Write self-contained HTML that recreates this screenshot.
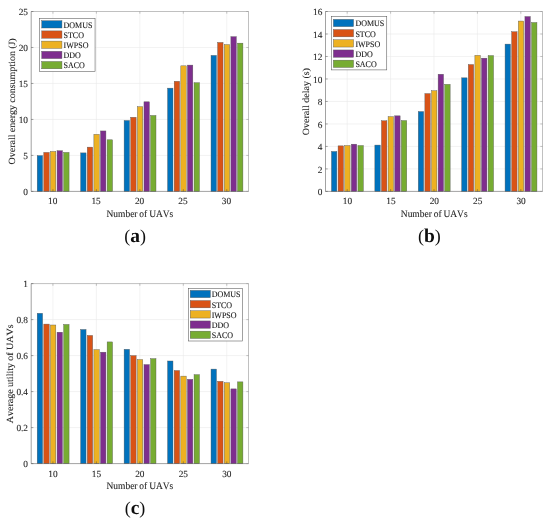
<!DOCTYPE html>
<html><head><meta charset="utf-8"><title>Figure</title>
<style>
html,body{margin:0;padding:0;background:#fff;}
svg{display:block;font-family:"Liberation Serif", serif;}
text{font-kerning:none;text-rendering:geometricPrecision;stroke:#262626;stroke-width:0.1px;}
.cap,.cap tspan{stroke:none;}
.lab{word-spacing:-0.5px;}
</style></head><body>
<svg width="550" height="524" viewBox="0 0 550 524">
<defs><filter id="soft" x="0" y="0" width="550" height="524" filterUnits="userSpaceOnUse"><feGaussianBlur stdDeviation="0.32"/></filter></defs>
<rect width="550" height="524" fill="#fff"/>
<g filter="url(#soft)">
<rect width="550" height="524" fill="#fff"/>
<line x1="52.93" y1="11.5" x2="52.93" y2="191.4" stroke="#e9e9e9" stroke-width="0.6"/>
<line x1="96.39" y1="11.5" x2="96.39" y2="191.4" stroke="#e9e9e9" stroke-width="0.6"/>
<line x1="139.85" y1="11.5" x2="139.85" y2="191.4" stroke="#e9e9e9" stroke-width="0.6"/>
<line x1="183.31" y1="11.5" x2="183.31" y2="191.4" stroke="#e9e9e9" stroke-width="0.6"/>
<line x1="226.77" y1="11.5" x2="226.77" y2="191.4" stroke="#e9e9e9" stroke-width="0.6"/>
<line x1="31.2" y1="155.42" x2="248.5" y2="155.42" stroke="#e9e9e9" stroke-width="0.6"/>
<line x1="31.2" y1="119.44" x2="248.5" y2="119.44" stroke="#e9e9e9" stroke-width="0.6"/>
<line x1="31.2" y1="83.46" x2="248.5" y2="83.46" stroke="#e9e9e9" stroke-width="0.6"/>
<line x1="31.2" y1="47.48" x2="248.5" y2="47.48" stroke="#e9e9e9" stroke-width="0.6"/>
<rect x="37.19" y="155.64" width="5.40" height="35.76" fill="#0072BD" stroke="#555" stroke-width="0.4"/>
<rect x="43.81" y="152.40" width="5.40" height="39.00" fill="#D95319" stroke="#555" stroke-width="0.4"/>
<rect x="50.43" y="151.46" width="5.40" height="39.94" fill="#EDB120" stroke="#555" stroke-width="0.4"/>
<rect x="57.05" y="150.74" width="5.40" height="40.66" fill="#7E2F8E" stroke="#555" stroke-width="0.4"/>
<rect x="63.67" y="152.40" width="5.40" height="39.00" fill="#77AC30" stroke="#555" stroke-width="0.4"/>
<rect x="80.65" y="152.90" width="5.40" height="38.50" fill="#0072BD" stroke="#555" stroke-width="0.4"/>
<rect x="87.27" y="147.14" width="5.40" height="44.26" fill="#D95319" stroke="#555" stroke-width="0.4"/>
<rect x="93.89" y="134.34" width="5.40" height="57.06" fill="#EDB120" stroke="#555" stroke-width="0.4"/>
<rect x="100.51" y="130.95" width="5.40" height="60.45" fill="#7E2F8E" stroke="#555" stroke-width="0.4"/>
<rect x="107.13" y="139.80" width="5.40" height="51.60" fill="#77AC30" stroke="#555" stroke-width="0.4"/>
<rect x="124.11" y="120.52" width="5.40" height="70.88" fill="#0072BD" stroke="#555" stroke-width="0.4"/>
<rect x="130.73" y="117.28" width="5.40" height="74.12" fill="#D95319" stroke="#555" stroke-width="0.4"/>
<rect x="137.35" y="106.70" width="5.40" height="84.70" fill="#EDB120" stroke="#555" stroke-width="0.4"/>
<rect x="143.97" y="101.81" width="5.40" height="89.59" fill="#7E2F8E" stroke="#555" stroke-width="0.4"/>
<rect x="150.59" y="115.48" width="5.40" height="75.92" fill="#77AC30" stroke="#555" stroke-width="0.4"/>
<rect x="167.57" y="88.14" width="5.40" height="103.26" fill="#0072BD" stroke="#555" stroke-width="0.4"/>
<rect x="174.19" y="81.30" width="5.40" height="110.10" fill="#D95319" stroke="#555" stroke-width="0.4"/>
<rect x="180.81" y="65.83" width="5.40" height="125.57" fill="#EDB120" stroke="#555" stroke-width="0.4"/>
<rect x="187.43" y="65.11" width="5.40" height="126.29" fill="#7E2F8E" stroke="#555" stroke-width="0.4"/>
<rect x="194.05" y="82.74" width="5.40" height="108.66" fill="#77AC30" stroke="#555" stroke-width="0.4"/>
<rect x="211.03" y="55.40" width="5.40" height="136.00" fill="#0072BD" stroke="#555" stroke-width="0.4"/>
<rect x="217.65" y="42.44" width="5.40" height="148.96" fill="#D95319" stroke="#555" stroke-width="0.4"/>
<rect x="224.27" y="44.60" width="5.40" height="146.80" fill="#EDB120" stroke="#555" stroke-width="0.4"/>
<rect x="230.89" y="36.69" width="5.40" height="154.71" fill="#7E2F8E" stroke="#555" stroke-width="0.4"/>
<rect x="237.51" y="43.16" width="5.40" height="148.24" fill="#77AC30" stroke="#555" stroke-width="0.4"/>
<path d="M31.2 11.5H248.5V191.4" fill="none" stroke="#8c8c8c" stroke-width="0.55"/>
<path d="M31.2 11.5V191.4H248.5" fill="none" stroke="#555" stroke-width="0.55"/>
<line x1="52.93" y1="191.4" x2="52.93" y2="189.20000000000002" stroke="#4a4a4a" stroke-width="0.5"/>
<line x1="52.93" y1="11.5" x2="52.93" y2="13.7" stroke="#8c8c8c" stroke-width="0.5"/>
<text transform="translate(52.63,204.40) scale(1.0,1)" font-size="9.3" text-anchor="middle" fill="#262626">10</text>
<line x1="96.39" y1="191.4" x2="96.39" y2="189.20000000000002" stroke="#4a4a4a" stroke-width="0.5"/>
<line x1="96.39" y1="11.5" x2="96.39" y2="13.7" stroke="#8c8c8c" stroke-width="0.5"/>
<text transform="translate(96.09,204.40) scale(1.0,1)" font-size="9.3" text-anchor="middle" fill="#262626">15</text>
<line x1="139.85" y1="191.4" x2="139.85" y2="189.20000000000002" stroke="#4a4a4a" stroke-width="0.5"/>
<line x1="139.85" y1="11.5" x2="139.85" y2="13.7" stroke="#8c8c8c" stroke-width="0.5"/>
<text transform="translate(139.55,204.40) scale(1.0,1)" font-size="9.3" text-anchor="middle" fill="#262626">20</text>
<line x1="183.31" y1="191.4" x2="183.31" y2="189.20000000000002" stroke="#4a4a4a" stroke-width="0.5"/>
<line x1="183.31" y1="11.5" x2="183.31" y2="13.7" stroke="#8c8c8c" stroke-width="0.5"/>
<text transform="translate(183.01,204.40) scale(1.0,1)" font-size="9.3" text-anchor="middle" fill="#262626">25</text>
<line x1="226.77" y1="191.4" x2="226.77" y2="189.20000000000002" stroke="#4a4a4a" stroke-width="0.5"/>
<line x1="226.77" y1="11.5" x2="226.77" y2="13.7" stroke="#8c8c8c" stroke-width="0.5"/>
<text transform="translate(226.47,204.40) scale(1.0,1)" font-size="9.3" text-anchor="middle" fill="#262626">30</text>
<line x1="31.2" y1="191.40" x2="33.4" y2="191.40" stroke="#4a4a4a" stroke-width="0.5"/>
<line x1="248.5" y1="191.40" x2="246.3" y2="191.40" stroke="#8c8c8c" stroke-width="0.5"/>
<text transform="translate(28.00,194.60) scale(1.0,1)" font-size="9.3" text-anchor="end" fill="#262626">0</text>
<line x1="31.2" y1="155.42" x2="33.4" y2="155.42" stroke="#4a4a4a" stroke-width="0.5"/>
<line x1="248.5" y1="155.42" x2="246.3" y2="155.42" stroke="#8c8c8c" stroke-width="0.5"/>
<text transform="translate(28.00,158.62) scale(1.0,1)" font-size="9.3" text-anchor="end" fill="#262626">5</text>
<line x1="31.2" y1="119.44" x2="33.4" y2="119.44" stroke="#4a4a4a" stroke-width="0.5"/>
<line x1="248.5" y1="119.44" x2="246.3" y2="119.44" stroke="#8c8c8c" stroke-width="0.5"/>
<text transform="translate(28.00,122.64) scale(1.0,1)" font-size="9.3" text-anchor="end" fill="#262626">10</text>
<line x1="31.2" y1="83.46" x2="33.4" y2="83.46" stroke="#4a4a4a" stroke-width="0.5"/>
<line x1="248.5" y1="83.46" x2="246.3" y2="83.46" stroke="#8c8c8c" stroke-width="0.5"/>
<text transform="translate(28.00,86.66) scale(1.0,1)" font-size="9.3" text-anchor="end" fill="#262626">15</text>
<line x1="31.2" y1="47.48" x2="33.4" y2="47.48" stroke="#4a4a4a" stroke-width="0.5"/>
<line x1="248.5" y1="47.48" x2="246.3" y2="47.48" stroke="#8c8c8c" stroke-width="0.5"/>
<text transform="translate(28.00,50.68) scale(1.0,1)" font-size="9.3" text-anchor="end" fill="#262626">20</text>
<line x1="31.2" y1="11.50" x2="33.4" y2="11.50" stroke="#4a4a4a" stroke-width="0.5"/>
<line x1="248.5" y1="11.50" x2="246.3" y2="11.50" stroke="#8c8c8c" stroke-width="0.5"/>
<text transform="translate(28.00,14.70) scale(1.0,1)" font-size="9.3" text-anchor="end" fill="#262626">25</text>
<text transform="translate(139.90,216.70) scale(0.945,1)" font-size="10.0" text-anchor="middle" fill="#262626" class="lab">Number of UAVs</text>
<text transform="translate(15.0,101.40) scale(0.945,1) rotate(-90)" font-size="10.0" text-anchor="middle" fill="#262626" style="word-spacing:-0.25px">Overall energy consumption (J)</text>
<rect x="39.35" y="18.3" width="55.7" height="53.2" fill="#fff" stroke="#555" stroke-width="0.55"/>
<rect x="41.75" y="20.70" width="20.2" height="7.3" fill="#0072BD" stroke="#555" stroke-width="0.4"/>
<text transform="translate(63.55,27.65) scale(0.94,1)" font-size="8.5" text-anchor="start" fill="#111">DOMUS</text>
<rect x="41.75" y="30.90" width="20.2" height="7.3" fill="#D95319" stroke="#555" stroke-width="0.4"/>
<text transform="translate(63.55,37.85) scale(0.94,1)" font-size="8.5" text-anchor="start" fill="#111">STCO</text>
<rect x="41.75" y="41.10" width="20.2" height="7.3" fill="#EDB120" stroke="#555" stroke-width="0.4"/>
<text transform="translate(63.55,48.05) scale(0.94,1)" font-size="8.5" text-anchor="start" fill="#111">IWPSO</text>
<rect x="41.75" y="51.30" width="20.2" height="7.3" fill="#7E2F8E" stroke="#555" stroke-width="0.4"/>
<text transform="translate(63.55,58.25) scale(0.94,1)" font-size="8.5" text-anchor="start" fill="#111">DDO</text>
<rect x="41.75" y="61.50" width="20.2" height="7.3" fill="#77AC30" stroke="#555" stroke-width="0.4"/>
<text transform="translate(63.55,68.45) scale(0.94,1)" font-size="8.5" text-anchor="start" fill="#111">SACO</text>
<text class="cap" x="135" y="241.8" font-size="18" text-anchor="middle" fill="#111">(<tspan font-weight="bold" font-size="19.5">a</tspan>)</text>
<line x1="347.20" y1="11.5" x2="347.20" y2="191.4" stroke="#e9e9e9" stroke-width="0.6"/>
<line x1="390.60" y1="11.5" x2="390.60" y2="191.4" stroke="#e9e9e9" stroke-width="0.6"/>
<line x1="434.00" y1="11.5" x2="434.00" y2="191.4" stroke="#e9e9e9" stroke-width="0.6"/>
<line x1="477.40" y1="11.5" x2="477.40" y2="191.4" stroke="#e9e9e9" stroke-width="0.6"/>
<line x1="520.80" y1="11.5" x2="520.80" y2="191.4" stroke="#e9e9e9" stroke-width="0.6"/>
<line x1="325.5" y1="168.91" x2="542.5" y2="168.91" stroke="#e9e9e9" stroke-width="0.6"/>
<line x1="325.5" y1="146.43" x2="542.5" y2="146.43" stroke="#e9e9e9" stroke-width="0.6"/>
<line x1="325.5" y1="123.94" x2="542.5" y2="123.94" stroke="#e9e9e9" stroke-width="0.6"/>
<line x1="325.5" y1="101.45" x2="542.5" y2="101.45" stroke="#e9e9e9" stroke-width="0.6"/>
<line x1="325.5" y1="78.96" x2="542.5" y2="78.96" stroke="#e9e9e9" stroke-width="0.6"/>
<line x1="325.5" y1="56.47" x2="542.5" y2="56.47" stroke="#e9e9e9" stroke-width="0.6"/>
<line x1="325.5" y1="33.99" x2="542.5" y2="33.99" stroke="#e9e9e9" stroke-width="0.6"/>
<rect x="331.46" y="151.48" width="5.40" height="39.92" fill="#0072BD" stroke="#555" stroke-width="0.4"/>
<rect x="338.08" y="145.86" width="5.40" height="45.54" fill="#D95319" stroke="#555" stroke-width="0.4"/>
<rect x="344.70" y="145.53" width="5.40" height="45.87" fill="#EDB120" stroke="#555" stroke-width="0.4"/>
<rect x="351.32" y="144.18" width="5.40" height="47.22" fill="#7E2F8E" stroke="#555" stroke-width="0.4"/>
<rect x="357.94" y="145.53" width="5.40" height="45.87" fill="#77AC30" stroke="#555" stroke-width="0.4"/>
<rect x="374.86" y="145.08" width="5.40" height="46.32" fill="#0072BD" stroke="#555" stroke-width="0.4"/>
<rect x="381.48" y="120.79" width="5.40" height="70.61" fill="#D95319" stroke="#555" stroke-width="0.4"/>
<rect x="388.10" y="116.63" width="5.40" height="74.77" fill="#EDB120" stroke="#555" stroke-width="0.4"/>
<rect x="394.72" y="115.84" width="5.40" height="75.56" fill="#7E2F8E" stroke="#555" stroke-width="0.4"/>
<rect x="401.34" y="120.56" width="5.40" height="70.84" fill="#77AC30" stroke="#555" stroke-width="0.4"/>
<rect x="418.26" y="111.57" width="5.40" height="79.83" fill="#0072BD" stroke="#555" stroke-width="0.4"/>
<rect x="424.88" y="93.58" width="5.40" height="97.82" fill="#D95319" stroke="#555" stroke-width="0.4"/>
<rect x="431.50" y="90.77" width="5.40" height="100.63" fill="#EDB120" stroke="#555" stroke-width="0.4"/>
<rect x="438.12" y="74.24" width="5.40" height="117.16" fill="#7E2F8E" stroke="#555" stroke-width="0.4"/>
<rect x="444.74" y="84.36" width="5.40" height="107.04" fill="#77AC30" stroke="#555" stroke-width="0.4"/>
<rect x="461.66" y="77.84" width="5.40" height="113.56" fill="#0072BD" stroke="#555" stroke-width="0.4"/>
<rect x="468.28" y="64.57" width="5.40" height="126.83" fill="#D95319" stroke="#555" stroke-width="0.4"/>
<rect x="474.90" y="55.35" width="5.40" height="136.05" fill="#EDB120" stroke="#555" stroke-width="0.4"/>
<rect x="481.52" y="58.16" width="5.40" height="133.24" fill="#7E2F8E" stroke="#555" stroke-width="0.4"/>
<rect x="488.14" y="55.58" width="5.40" height="135.82" fill="#77AC30" stroke="#555" stroke-width="0.4"/>
<rect x="505.06" y="44.11" width="5.40" height="147.29" fill="#0072BD" stroke="#555" stroke-width="0.4"/>
<rect x="511.68" y="31.74" width="5.40" height="159.66" fill="#D95319" stroke="#555" stroke-width="0.4"/>
<rect x="518.30" y="21.06" width="5.40" height="170.34" fill="#EDB120" stroke="#555" stroke-width="0.4"/>
<rect x="524.92" y="16.56" width="5.40" height="174.84" fill="#7E2F8E" stroke="#555" stroke-width="0.4"/>
<rect x="531.54" y="22.52" width="5.40" height="168.88" fill="#77AC30" stroke="#555" stroke-width="0.4"/>
<path d="M325.5 11.5H542.5V191.4" fill="none" stroke="#8c8c8c" stroke-width="0.55"/>
<path d="M325.5 11.5V191.4H542.5" fill="none" stroke="#555" stroke-width="0.55"/>
<line x1="347.20" y1="191.4" x2="347.20" y2="189.20000000000002" stroke="#4a4a4a" stroke-width="0.5"/>
<line x1="347.20" y1="11.5" x2="347.20" y2="13.7" stroke="#8c8c8c" stroke-width="0.5"/>
<text transform="translate(347.50,204.40) scale(1.0,1)" font-size="9.3" text-anchor="middle" fill="#262626">10</text>
<line x1="390.60" y1="191.4" x2="390.60" y2="189.20000000000002" stroke="#4a4a4a" stroke-width="0.5"/>
<line x1="390.60" y1="11.5" x2="390.60" y2="13.7" stroke="#8c8c8c" stroke-width="0.5"/>
<text transform="translate(390.90,204.40) scale(1.0,1)" font-size="9.3" text-anchor="middle" fill="#262626">15</text>
<line x1="434.00" y1="191.4" x2="434.00" y2="189.20000000000002" stroke="#4a4a4a" stroke-width="0.5"/>
<line x1="434.00" y1="11.5" x2="434.00" y2="13.7" stroke="#8c8c8c" stroke-width="0.5"/>
<text transform="translate(434.30,204.40) scale(1.0,1)" font-size="9.3" text-anchor="middle" fill="#262626">20</text>
<line x1="477.40" y1="191.4" x2="477.40" y2="189.20000000000002" stroke="#4a4a4a" stroke-width="0.5"/>
<line x1="477.40" y1="11.5" x2="477.40" y2="13.7" stroke="#8c8c8c" stroke-width="0.5"/>
<text transform="translate(477.70,204.40) scale(1.0,1)" font-size="9.3" text-anchor="middle" fill="#262626">25</text>
<line x1="520.80" y1="191.4" x2="520.80" y2="189.20000000000002" stroke="#4a4a4a" stroke-width="0.5"/>
<line x1="520.80" y1="11.5" x2="520.80" y2="13.7" stroke="#8c8c8c" stroke-width="0.5"/>
<text transform="translate(521.10,204.40) scale(1.0,1)" font-size="9.3" text-anchor="middle" fill="#262626">30</text>
<line x1="325.5" y1="191.40" x2="327.7" y2="191.40" stroke="#4a4a4a" stroke-width="0.5"/>
<line x1="542.5" y1="191.40" x2="540.3" y2="191.40" stroke="#8c8c8c" stroke-width="0.5"/>
<text transform="translate(322.30,195.15) scale(1.0,1)" font-size="9.3" text-anchor="end" fill="#262626">0</text>
<line x1="325.5" y1="168.91" x2="327.7" y2="168.91" stroke="#4a4a4a" stroke-width="0.5"/>
<line x1="542.5" y1="168.91" x2="540.3" y2="168.91" stroke="#8c8c8c" stroke-width="0.5"/>
<text transform="translate(322.30,172.66) scale(1.0,1)" font-size="9.3" text-anchor="end" fill="#262626">2</text>
<line x1="325.5" y1="146.43" x2="327.7" y2="146.43" stroke="#4a4a4a" stroke-width="0.5"/>
<line x1="542.5" y1="146.43" x2="540.3" y2="146.43" stroke="#8c8c8c" stroke-width="0.5"/>
<text transform="translate(322.30,150.18) scale(1.0,1)" font-size="9.3" text-anchor="end" fill="#262626">4</text>
<line x1="325.5" y1="123.94" x2="327.7" y2="123.94" stroke="#4a4a4a" stroke-width="0.5"/>
<line x1="542.5" y1="123.94" x2="540.3" y2="123.94" stroke="#8c8c8c" stroke-width="0.5"/>
<text transform="translate(322.30,127.69) scale(1.0,1)" font-size="9.3" text-anchor="end" fill="#262626">6</text>
<line x1="325.5" y1="101.45" x2="327.7" y2="101.45" stroke="#4a4a4a" stroke-width="0.5"/>
<line x1="542.5" y1="101.45" x2="540.3" y2="101.45" stroke="#8c8c8c" stroke-width="0.5"/>
<text transform="translate(322.30,105.20) scale(1.0,1)" font-size="9.3" text-anchor="end" fill="#262626">8</text>
<line x1="325.5" y1="78.96" x2="327.7" y2="78.96" stroke="#4a4a4a" stroke-width="0.5"/>
<line x1="542.5" y1="78.96" x2="540.3" y2="78.96" stroke="#8c8c8c" stroke-width="0.5"/>
<text transform="translate(322.30,82.71) scale(1.0,1)" font-size="9.3" text-anchor="end" fill="#262626">10</text>
<line x1="325.5" y1="56.47" x2="327.7" y2="56.47" stroke="#4a4a4a" stroke-width="0.5"/>
<line x1="542.5" y1="56.47" x2="540.3" y2="56.47" stroke="#8c8c8c" stroke-width="0.5"/>
<text transform="translate(322.30,60.22) scale(1.0,1)" font-size="9.3" text-anchor="end" fill="#262626">12</text>
<line x1="325.5" y1="33.99" x2="327.7" y2="33.99" stroke="#4a4a4a" stroke-width="0.5"/>
<line x1="542.5" y1="33.99" x2="540.3" y2="33.99" stroke="#8c8c8c" stroke-width="0.5"/>
<text transform="translate(322.30,37.74) scale(1.0,1)" font-size="9.3" text-anchor="end" fill="#262626">14</text>
<line x1="325.5" y1="11.50" x2="327.7" y2="11.50" stroke="#4a4a4a" stroke-width="0.5"/>
<line x1="542.5" y1="11.50" x2="540.3" y2="11.50" stroke="#8c8c8c" stroke-width="0.5"/>
<text transform="translate(322.30,15.25) scale(1.0,1)" font-size="9.3" text-anchor="end" fill="#262626">16</text>
<text transform="translate(434.20,216.70) scale(0.945,1)" font-size="10.0" text-anchor="middle" fill="#262626" class="lab">Number of UAVs</text>
<text transform="translate(309,101.65) scale(0.945,1) rotate(-90)" font-size="10.0" text-anchor="middle" fill="#262626" style="word-spacing:0px">Overall delay (s)</text>
<rect x="331.35" y="16.7" width="55.4" height="53.2" fill="#fff" stroke="#555" stroke-width="0.55"/>
<rect x="333.35" y="19.35" width="20.2" height="7.3" fill="#0072BD" stroke="#555" stroke-width="0.4"/>
<text transform="translate(355.40,26.30) scale(0.94,1)" font-size="8.5" text-anchor="start" fill="#111">DOMUS</text>
<rect x="333.35" y="29.55" width="20.2" height="7.3" fill="#D95319" stroke="#555" stroke-width="0.4"/>
<text transform="translate(355.40,36.50) scale(0.94,1)" font-size="8.5" text-anchor="start" fill="#111">STCO</text>
<rect x="333.35" y="39.75" width="20.2" height="7.3" fill="#EDB120" stroke="#555" stroke-width="0.4"/>
<text transform="translate(355.40,46.70) scale(0.94,1)" font-size="8.5" text-anchor="start" fill="#111">IWPSO</text>
<rect x="333.35" y="49.95" width="20.2" height="7.3" fill="#7E2F8E" stroke="#555" stroke-width="0.4"/>
<text transform="translate(355.40,56.90) scale(0.94,1)" font-size="8.5" text-anchor="start" fill="#111">DDO</text>
<rect x="333.35" y="60.15" width="20.2" height="7.3" fill="#77AC30" stroke="#555" stroke-width="0.4"/>
<text transform="translate(355.40,67.10) scale(0.94,1)" font-size="8.5" text-anchor="start" fill="#111">SACO</text>
<text class="cap" x="429.4" y="241.8" font-size="18" text-anchor="middle" fill="#111">(<tspan font-weight="bold" font-size="19.5">b</tspan>)</text>
<line x1="52.93" y1="283.6" x2="52.93" y2="463.6" stroke="#e9e9e9" stroke-width="0.6"/>
<line x1="96.39" y1="283.6" x2="96.39" y2="463.6" stroke="#e9e9e9" stroke-width="0.6"/>
<line x1="139.85" y1="283.6" x2="139.85" y2="463.6" stroke="#e9e9e9" stroke-width="0.6"/>
<line x1="183.31" y1="283.6" x2="183.31" y2="463.6" stroke="#e9e9e9" stroke-width="0.6"/>
<line x1="226.77" y1="283.6" x2="226.77" y2="463.6" stroke="#e9e9e9" stroke-width="0.6"/>
<line x1="31.2" y1="427.60" x2="248.5" y2="427.60" stroke="#e9e9e9" stroke-width="0.6"/>
<line x1="31.2" y1="391.60" x2="248.5" y2="391.60" stroke="#e9e9e9" stroke-width="0.6"/>
<line x1="31.2" y1="355.60" x2="248.5" y2="355.60" stroke="#e9e9e9" stroke-width="0.6"/>
<line x1="31.2" y1="319.60" x2="248.5" y2="319.60" stroke="#e9e9e9" stroke-width="0.6"/>
<rect x="37.19" y="313.30" width="5.40" height="150.30" fill="#0072BD" stroke="#555" stroke-width="0.4"/>
<rect x="43.81" y="324.10" width="5.40" height="139.50" fill="#D95319" stroke="#555" stroke-width="0.4"/>
<rect x="50.43" y="325.00" width="5.40" height="138.60" fill="#EDB120" stroke="#555" stroke-width="0.4"/>
<rect x="57.05" y="332.20" width="5.40" height="131.40" fill="#7E2F8E" stroke="#555" stroke-width="0.4"/>
<rect x="63.67" y="324.46" width="5.40" height="139.14" fill="#77AC30" stroke="#555" stroke-width="0.4"/>
<rect x="80.65" y="329.50" width="5.40" height="134.10" fill="#0072BD" stroke="#555" stroke-width="0.4"/>
<rect x="87.27" y="335.44" width="5.40" height="128.16" fill="#D95319" stroke="#555" stroke-width="0.4"/>
<rect x="93.89" y="349.66" width="5.40" height="113.94" fill="#EDB120" stroke="#555" stroke-width="0.4"/>
<rect x="100.51" y="352.18" width="5.40" height="111.42" fill="#7E2F8E" stroke="#555" stroke-width="0.4"/>
<rect x="107.13" y="341.92" width="5.40" height="121.68" fill="#77AC30" stroke="#555" stroke-width="0.4"/>
<rect x="124.11" y="349.30" width="5.40" height="114.30" fill="#0072BD" stroke="#555" stroke-width="0.4"/>
<rect x="130.73" y="355.60" width="5.40" height="108.00" fill="#D95319" stroke="#555" stroke-width="0.4"/>
<rect x="137.35" y="359.56" width="5.40" height="104.04" fill="#EDB120" stroke="#555" stroke-width="0.4"/>
<rect x="143.97" y="364.60" width="5.40" height="99.00" fill="#7E2F8E" stroke="#555" stroke-width="0.4"/>
<rect x="150.59" y="358.66" width="5.40" height="104.94" fill="#77AC30" stroke="#555" stroke-width="0.4"/>
<rect x="167.57" y="361.00" width="5.40" height="102.60" fill="#0072BD" stroke="#555" stroke-width="0.4"/>
<rect x="174.19" y="370.54" width="5.40" height="93.06" fill="#D95319" stroke="#555" stroke-width="0.4"/>
<rect x="180.81" y="376.12" width="5.40" height="87.48" fill="#EDB120" stroke="#555" stroke-width="0.4"/>
<rect x="187.43" y="379.36" width="5.40" height="84.24" fill="#7E2F8E" stroke="#555" stroke-width="0.4"/>
<rect x="194.05" y="374.68" width="5.40" height="88.92" fill="#77AC30" stroke="#555" stroke-width="0.4"/>
<rect x="211.03" y="369.10" width="5.40" height="94.50" fill="#0072BD" stroke="#555" stroke-width="0.4"/>
<rect x="217.65" y="381.34" width="5.40" height="82.26" fill="#D95319" stroke="#555" stroke-width="0.4"/>
<rect x="224.27" y="382.78" width="5.40" height="80.82" fill="#EDB120" stroke="#555" stroke-width="0.4"/>
<rect x="230.89" y="388.90" width="5.40" height="74.70" fill="#7E2F8E" stroke="#555" stroke-width="0.4"/>
<rect x="237.51" y="381.88" width="5.40" height="81.72" fill="#77AC30" stroke="#555" stroke-width="0.4"/>
<path d="M31.2 283.6H248.5V463.6" fill="none" stroke="#8c8c8c" stroke-width="0.55"/>
<path d="M31.2 283.6V463.6H248.5" fill="none" stroke="#555" stroke-width="0.55"/>
<line x1="52.93" y1="463.6" x2="52.93" y2="461.40000000000003" stroke="#4a4a4a" stroke-width="0.5"/>
<line x1="52.93" y1="283.6" x2="52.93" y2="285.8" stroke="#8c8c8c" stroke-width="0.5"/>
<text transform="translate(52.93,476.60) scale(1.0,1)" font-size="9.3" text-anchor="middle" fill="#262626">10</text>
<line x1="96.39" y1="463.6" x2="96.39" y2="461.40000000000003" stroke="#4a4a4a" stroke-width="0.5"/>
<line x1="96.39" y1="283.6" x2="96.39" y2="285.8" stroke="#8c8c8c" stroke-width="0.5"/>
<text transform="translate(96.39,476.60) scale(1.0,1)" font-size="9.3" text-anchor="middle" fill="#262626">15</text>
<line x1="139.85" y1="463.6" x2="139.85" y2="461.40000000000003" stroke="#4a4a4a" stroke-width="0.5"/>
<line x1="139.85" y1="283.6" x2="139.85" y2="285.8" stroke="#8c8c8c" stroke-width="0.5"/>
<text transform="translate(139.85,476.60) scale(1.0,1)" font-size="9.3" text-anchor="middle" fill="#262626">20</text>
<line x1="183.31" y1="463.6" x2="183.31" y2="461.40000000000003" stroke="#4a4a4a" stroke-width="0.5"/>
<line x1="183.31" y1="283.6" x2="183.31" y2="285.8" stroke="#8c8c8c" stroke-width="0.5"/>
<text transform="translate(183.31,476.60) scale(1.0,1)" font-size="9.3" text-anchor="middle" fill="#262626">25</text>
<line x1="226.77" y1="463.6" x2="226.77" y2="461.40000000000003" stroke="#4a4a4a" stroke-width="0.5"/>
<line x1="226.77" y1="283.6" x2="226.77" y2="285.8" stroke="#8c8c8c" stroke-width="0.5"/>
<text transform="translate(226.77,476.60) scale(1.0,1)" font-size="9.3" text-anchor="middle" fill="#262626">30</text>
<line x1="31.2" y1="463.60" x2="33.4" y2="463.60" stroke="#4a4a4a" stroke-width="0.5"/>
<line x1="248.5" y1="463.60" x2="246.3" y2="463.60" stroke="#8c8c8c" stroke-width="0.5"/>
<text transform="translate(28.00,467.30) scale(1.0,1)" font-size="9.3" text-anchor="end" fill="#262626">0</text>
<line x1="31.2" y1="427.60" x2="33.4" y2="427.60" stroke="#4a4a4a" stroke-width="0.5"/>
<line x1="248.5" y1="427.60" x2="246.3" y2="427.60" stroke="#8c8c8c" stroke-width="0.5"/>
<text transform="translate(28.00,431.30) scale(1.0,1)" font-size="9.3" text-anchor="end" fill="#262626">0.2</text>
<line x1="31.2" y1="391.60" x2="33.4" y2="391.60" stroke="#4a4a4a" stroke-width="0.5"/>
<line x1="248.5" y1="391.60" x2="246.3" y2="391.60" stroke="#8c8c8c" stroke-width="0.5"/>
<text transform="translate(28.00,395.30) scale(1.0,1)" font-size="9.3" text-anchor="end" fill="#262626">0.4</text>
<line x1="31.2" y1="355.60" x2="33.4" y2="355.60" stroke="#4a4a4a" stroke-width="0.5"/>
<line x1="248.5" y1="355.60" x2="246.3" y2="355.60" stroke="#8c8c8c" stroke-width="0.5"/>
<text transform="translate(28.00,359.30) scale(1.0,1)" font-size="9.3" text-anchor="end" fill="#262626">0.6</text>
<line x1="31.2" y1="319.60" x2="33.4" y2="319.60" stroke="#4a4a4a" stroke-width="0.5"/>
<line x1="248.5" y1="319.60" x2="246.3" y2="319.60" stroke="#8c8c8c" stroke-width="0.5"/>
<text transform="translate(28.00,323.30) scale(1.0,1)" font-size="9.3" text-anchor="end" fill="#262626">0.8</text>
<line x1="31.2" y1="283.60" x2="33.4" y2="283.60" stroke="#4a4a4a" stroke-width="0.5"/>
<line x1="248.5" y1="283.60" x2="246.3" y2="283.60" stroke="#8c8c8c" stroke-width="0.5"/>
<text transform="translate(28.00,287.30) scale(1.0,1)" font-size="9.3" text-anchor="end" fill="#262626">1</text>
<text transform="translate(139.90,489.00) scale(0.945,1)" font-size="10.0" text-anchor="middle" fill="#262626" class="lab">Number of UAVs</text>
<text transform="translate(12.6,373.80) scale(0.945,1) rotate(-90)" font-size="10.0" text-anchor="middle" fill="#262626" style="word-spacing:-0.15px">Average utility of UAVs</text>
<rect x="188.3" y="288.3" width="54.3" height="52.7" fill="#fff" stroke="#555" stroke-width="0.55"/>
<rect x="190.20000000000002" y="290.35" width="20.2" height="7.3" fill="#0072BD" stroke="#555" stroke-width="0.4"/>
<text transform="translate(211.70,297.30) scale(0.94,1)" font-size="8.5" text-anchor="start" fill="#111">DOMUS</text>
<rect x="190.20000000000002" y="300.55" width="20.2" height="7.3" fill="#D95319" stroke="#555" stroke-width="0.4"/>
<text transform="translate(211.70,307.50) scale(0.94,1)" font-size="8.5" text-anchor="start" fill="#111">STCO</text>
<rect x="190.20000000000002" y="310.75" width="20.2" height="7.3" fill="#EDB120" stroke="#555" stroke-width="0.4"/>
<text transform="translate(211.70,317.70) scale(0.94,1)" font-size="8.5" text-anchor="start" fill="#111">IWPSO</text>
<rect x="190.20000000000002" y="320.95" width="20.2" height="7.3" fill="#7E2F8E" stroke="#555" stroke-width="0.4"/>
<text transform="translate(211.70,327.90) scale(0.94,1)" font-size="8.5" text-anchor="start" fill="#111">DDO</text>
<rect x="190.20000000000002" y="331.15" width="20.2" height="7.3" fill="#77AC30" stroke="#555" stroke-width="0.4"/>
<text transform="translate(211.70,338.10) scale(0.94,1)" font-size="8.5" text-anchor="start" fill="#111">SACO</text>
<text class="cap" x="135" y="513.8" font-size="18" text-anchor="middle" fill="#111">(<tspan font-weight="bold" font-size="19.5">c</tspan>)</text>
</g>
</svg>
</body></html>
